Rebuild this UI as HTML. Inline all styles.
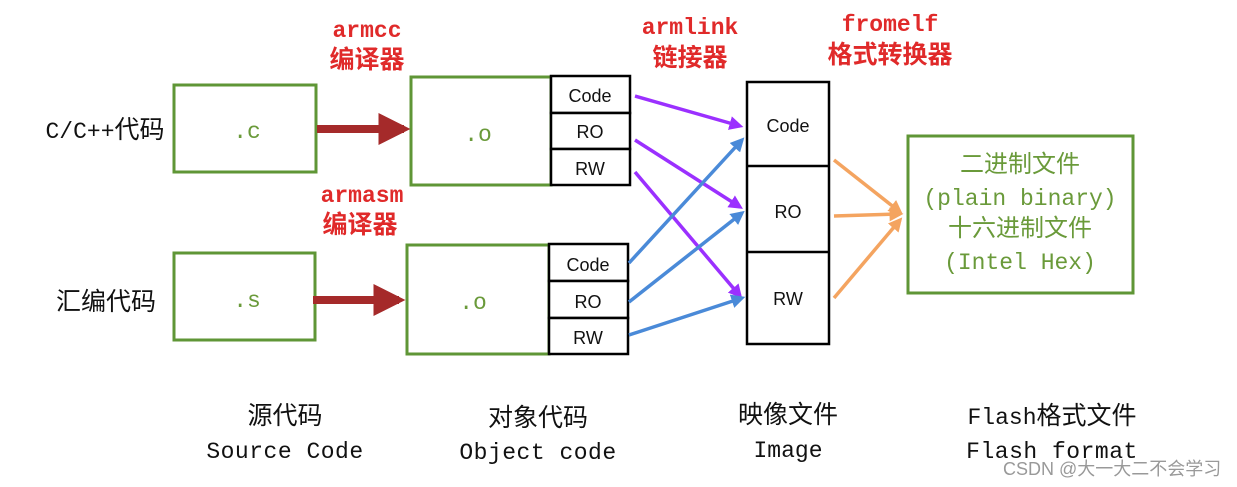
<!DOCTYPE html>
<html><head><meta charset="utf-8"><style>
html,body{margin:0;padding:0;background:#fff;}
svg{display:block;}
.m{font-family:"Liberation Mono","Noto Sans CJK SC",monospace;}
.s{font-family:"Liberation Sans","Noto Sans CJK SC",sans-serif;}
</style></head><body>
<svg width="1237" height="487" viewBox="0 0 1237 487" xmlns="http://www.w3.org/2000/svg">
<defs>
<marker id="ar" markerWidth="4" markerHeight="4" refX="3.2" refY="2" orient="auto" markerUnits="strokeWidth"><path d="M0,0 L4,2 L0,4 z" fill="#a52a2a"/></marker>
<marker id="ap" markerWidth="4" markerHeight="4" refX="3" refY="2" orient="auto" markerUnits="strokeWidth"><path d="M0,0 L4,2 L0,4 z" fill="#9b30ff"/></marker>
<marker id="ab" markerWidth="4" markerHeight="4" refX="3" refY="2" orient="auto" markerUnits="strokeWidth"><path d="M0,0 L4,2 L0,4 z" fill="#4a8ad8"/></marker>
<marker id="ao" markerWidth="4" markerHeight="4" refX="3" refY="2" orient="auto" markerUnits="strokeWidth"><path d="M0,0 L4,2 L0,4 z" fill="#f4a460"/></marker>
</defs>
<g fill="none" stroke="#5f9636" stroke-width="3">
<rect x="174" y="85" width="142" height="87"/>
<rect x="174" y="253" width="141" height="87"/>
<rect x="411" y="77" width="140" height="108"/>
<rect x="407" y="245" width="142" height="109"/>
<rect x="908" y="136" width="225" height="157"/>
</g>
<g fill="#fff" stroke="#000" stroke-width="2.5">
<rect x="551" y="76" width="79" height="37"/><rect x="551" y="113" width="79" height="36"/><rect x="551" y="149" width="79" height="36"/>
<rect x="549" y="244" width="79" height="37"/><rect x="549" y="281" width="79" height="37"/><rect x="549" y="318" width="79" height="36"/>
<rect x="747" y="82" width="82" height="262"/>
<line x1="747" y1="166" x2="829" y2="166"/><line x1="747" y1="252" x2="829" y2="252"/>
</g>
<g stroke-width="8"><line x1="317" y1="129" x2="404" y2="129" stroke="#a52a2a" marker-end="url(#ar)"/>
<line x1="313" y1="300" x2="399" y2="300" stroke="#a52a2a" marker-end="url(#ar)"/></g>
<g stroke-width="3.5">
<line x1="635" y1="96" x2="740" y2="126" stroke="#9b30ff" marker-end="url(#ap)"/>
<line x1="635" y1="140" x2="740" y2="207" stroke="#9b30ff" marker-end="url(#ap)"/>
<line x1="635" y1="172" x2="740" y2="296" stroke="#9b30ff" marker-end="url(#ap)"/>
<line x1="629" y1="263" x2="742" y2="140" stroke="#4a8ad8" marker-end="url(#ab)"/>
<line x1="629" y1="302" x2="742" y2="213" stroke="#4a8ad8" marker-end="url(#ab)"/>
<line x1="629" y1="335" x2="742" y2="298" stroke="#4a8ad8" marker-end="url(#ab)"/>
<line x1="834" y1="160" x2="900" y2="212" stroke="#f4a460" marker-end="url(#ao)"/>
<line x1="834" y1="216" x2="900" y2="214" stroke="#f4a460" marker-end="url(#ao)"/>
<line x1="834" y1="298" x2="900" y2="220" stroke="#f4a460" marker-end="url(#ao)"/>
</g>
<g class="s" font-size="18" text-anchor="middle" fill="#111">
<text x="590" y="102">Code</text><text x="590" y="138">RO</text><text x="590" y="175">RW</text>
<text x="588" y="271">Code</text><text x="588" y="308">RO</text><text x="588" y="344">RW</text>
<text x="788" y="132">Code</text><text x="788" y="218">RO</text><text x="788" y="305">RW</text>
</g>
<g class="m" font-size="23" text-anchor="middle" fill="#6a9a3a">
<text x="247" y="138">.c</text><text x="247" y="307">.s</text>
<text x="478" y="141">.o</text><text x="473" y="309">.o</text>
<text x="1020" y="172" font-size="24">二进制文件</text>
<text x="1020" y="205">(plain binary)</text>
<text x="1020" y="236" font-size="24">十六进制文件</text>
<text x="1020" y="269">(Intel Hex)</text>
</g>
<g class="m" font-size="23" font-weight="bold" text-anchor="middle" fill="#e02a2a">
<text x="367" y="37">armcc</text><text x="367" y="68" font-size="25">编译器</text>
<text x="362" y="202">armasm</text><text x="360" y="233" font-size="25">编译器</text>
<text x="690" y="34">armlink</text><text x="690" y="66" font-size="25">链接器</text>
<text x="890" y="31">fromelf</text><text x="890" y="63" font-size="25">格式转换器</text>
</g>
<g class="m" font-size="23" fill="#111" text-anchor="middle">
<text x="105" y="138">C/C++<tspan font-size="25">代码</tspan></text>
<text x="106" y="310" font-size="25">汇编代码</text>
<text x="285" y="424" font-size="25">源代码</text><text x="285" y="458" letter-spacing="0.5">Source Code</text>
<text x="538" y="426" font-size="25">对象代码</text><text x="538" y="459" letter-spacing="0.5">Object code</text>
<text x="788" y="423" font-size="25">映像文件</text><text x="788" y="457">Image</text>
<text x="1052" y="424">Flash<tspan font-size="25">格式文件</tspan></text><text x="1052" y="458" letter-spacing="0.5">Flash format</text>
</g>
<text x="1003" y="475" class="s" font-size="18" fill="#999">CSDN @大一大二不会学习</text>
</svg>
</body></html>
